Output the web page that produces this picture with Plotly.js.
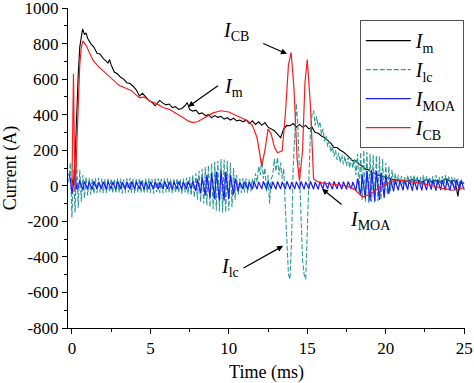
<!DOCTYPE html>
<html>
<head>
<meta charset="utf-8">
<script src="https://cdn.plot.ly/plotly-3.0.1.min.js"></script>
<style>
  html, body { margin: 0; padding: 0; background: #fff; }
  #chart { width: 474px; height: 383px; }
</style>
</head>
<body>
<div id="chart"></div>
<script>
// ---- Data ----
// I_m (black)
const imTime = [0, 0.1, 0.2, 0.3, 0.4, 0.5, 0.6, 0.68, 0.8, 0.9, 1.0, 1.2, 1.4, 1.6, 1.8, 2.0, 2.2, 2.3, 2.4, 2.5, 2.7, 2.9, 3.1, 3.3, 3.5, 3.7, 3.9, 4.1, 4.3, 4.5, 4.7, 4.9, 5.1, 5.3, 5.5, 5.6, 5.8, 6.0, 6.2, 6.4, 6.6, 6.8, 7.0, 7.2, 7.35, 7.5, 7.7, 7.9, 8.1, 8.3, 8.5, 8.7, 8.9, 9.1, 9.3, 9.5, 9.7, 9.9, 10.1, 10.3, 10.5, 10.7, 10.9, 11.1, 11.3, 11.5, 11.7, 11.9, 12.1, 12.3, 12.5, 12.7, 12.9, 13.1, 13.3, 13.5, 13.7, 13.9, 14.1, 14.3, 14.5, 14.7, 14.9, 15.1, 15.3, 15.5, 15.7, 15.9, 16.1, 16.3, 16.5, 16.7, 16.9, 17.1, 17.3, 17.5, 17.7, 17.9, 18.1, 18.3, 18.5, 18.7, 18.9, 19.1, 19.3, 19.5, 19.7, 19.9, 20.2, 20.5, 20.8, 21.1, 21.4, 21.7, 22.0, 22.3, 22.6, 22.9, 23.2, 23.5, 23.8, 24.1, 24.4, 24.6, 24.7, 25.0];
const imValues = [40, 0, 150, 400, 620, 780, 850, 883, 850, 860, 830, 800, 780, 745, 740, 715, 700, 690, 710, 680, 640, 630, 610, 600, 580, 575, 560, 540, 505, 520, 500, 480, 470, 450, 470, 480, 465, 455, 460, 440, 445, 430, 435, 450, 468, 430, 420, 425, 405, 410, 395, 400, 383, 395, 385, 390, 375, 383, 370, 380, 365, 370, 360, 370, 350, 365, 345, 360, 340, 355, 330, 320, 310, 290, 270, 320, 340, 338, 350, 330, 345, 330, 340, 320, 330, 300, 295, 280, 270, 255, 240, 215, 215, 200, 190, 175, 160, 140, 140, 120, 110, 95, 90, 75, 70, 60, 55, 50, 40, 35, 28, 30, 25, 35, 30, 20, 35, 25, 30, 20, 40, 25, 30, -60, 20, 15];

// I_lc (teal, dashed) sampled every 0.1 ms from -0.2 ms
const ilcStart = -0.2, sampleStep = 0.1;
const ilcValues = [
  20, 130, -180, 90, -150, 158, -124, 90, -90, 60,
  -70, 50, -55, 45, -50, 40, -45, 42, -40, 45,
  -38, 40, -42, 38, -40, 44, -36, 40, -42, 38,
  -40, 42, -38, 40, -44, 36, -40, 42, -38, 45,
  -40, 38, -42, 40, -38, 44, -40, 36, -42, 40,
  -38, 42, -40, 38, -44, 40, -36, 42, -40, 38,
  -42, 40, -38, 44, -40, 36, -42, 40, -38, 42,
  -40, 38, -44, 40, -38, 45, -48, 50, -55, 60,
  -65, 70, -78, 85, -90, 95, -100, 105, -110, 115,
  -120, 125, -130, 135, -140, 140, -145, 150, -150, 148,
  -150, 140, -140, 130, -120, 100, -80, 60, -50, 40,
  -40, 42, -38, 40, -42, 35, -30, 40, -10, 70,
  20, 110, 60, 150, 40, 100, -30, 60, -100, 40,
  60, 152, 80, 160, 60, 130, 40, 96, -120, -350,
  -500, -525, -300, 100, 330, 462, 330, 100, -200, -420,
  -500, -525, -250, 100, 300, 400, 423, 340, 390, 330,
  360, 290, 320, 250, 280, 220, 250, 190, 220, 165,
  200, 145, 185, 130, 175, 120, 165, 110, 160, 100,
  155, 100, 150, 60, 180, -40, 190, -80, 200, -90,
  190, -96, 180, -90, 175, -95, 170, -85, 165, -80,
  150, -70, 130, -50, 110, -30, 90, 0, 70, 10,
  60, 0, 55, 5, 50, 0, 60, 10, 55, 5,
  60, 0, 55, 10, 50, 5, 60, 0, 55, 10,
  50, 0, 55, 5, 60, 0, 50, 10, 55, 0,
  60, 5, 55, 10, 50, 0, 45, 5, 40, 10,
  35, 15, 25
];

// I_MOA (blue) sampled every 0.1 ms from -0.2 ms
const imoaValues = [
  67, 40, -45, 20, 73, -20, -10, 28, 5, -22,
  24, 3, -18, 22, 0, -20, 25, 4, -19, 21, 1, -18, 23, 2, -20, 24, 5, -17, 22, 0, -20, 25, 3, -18,
  21, 2, -19, 23, 1, -20, 24, 4, -18, 22, 0, -17, 25, 3, -20, 21, 2, -18, 23, 0, -19, 24, 4, -20,
  22, 1, -18, 25, 3, -17, 21, 0, -20, 23, 2, -18, 24, 4, -19, 22, 1, -20, 25, 3, -18,
  28, 2, -30, 36, 0, -42, 48, 3, -55, 60, 0, -66, 72, 4, -76, 80, 0, -84, 85, 3, -82, 78, 0, -72, 62, 2, -50, 40, 0, -30, 22,
  2, -19,
  23, 2, -18, 21, 0, -20, 24, 3, -19, 22, 1, -18, 25, 4, -20, 21, 0, -17, 23, 2, -20, 24, 3, -18,
  22, 0, -19, 25, 4, -20, 21, 1, -18, 23, 2, -17, 24, 0, -20, 22, 3, -18, 25, 1, -19, 21, 2, -20,
  23, 4, -18, 24, 0, -17, 22, 1, -20, 25, 3, -18, 21, 0, -19, 23, 2, -20, 24, 4, -18,
  22, 0,
  -28, 40, 2, -52, 62, 0, -72, 82, 3, -88, 90, 0, -86, 84, 2, -80, 74, 0, -66, 58, 1, -45, 40, 0, -32, 30, 2,
  -26,
  32, 5, -25, 30, 3, -22, 35, 6, -28, 31, 4, -24, 33, 5, -26, 30, 2, -25, 34, 6, -22,
  31, 3, -27, 35, 5, -24, 30, 4, -25, 33, 2, -28, 31, 5, -24, 34, 3, -26, 30, 4, -22
];

// I_CB (red)
const icbTime = [0, 0.05, 0.1, 0.15, 0.2, 0.3, 0.4, 0.5, 0.6, 0.7, 0.9, 1.1, 1.35, 1.7, 2.0, 2.4, 2.7, 3.0, 3.4, 3.8, 4.1, 4.3, 4.6, 5.0, 5.4, 5.8, 6.2, 6.6, 7.1, 7.4, 7.7, 8.0, 8.3, 8.6, 9.0, 9.5, 10.0, 10.5, 10.8, 11.2, 11.5, 11.8, 12.1, 12.3, 12.5, 12.7, 12.9, 13.1, 13.4, 13.6, 13.8, 13.97, 14.15, 14.35, 14.5, 14.7, 14.85, 15.0, 15.2, 15.4, 15.6, 16.0, 16.5, 17.0, 17.5, 18.0, 18.5, 18.8, 19.2, 19.6, 20.0, 20.7, 21.5, 22.2, 23.0, 23.6, 24.3, 25.0];
const icbValues = [0, 320, 630, 250, -30, 200, 480, 680, 780, 815, 790, 750, 705, 670, 645, 610, 590, 565, 550, 535, 510, 495, 500, 475, 462, 440, 430, 410, 383, 365, 355, 360, 375, 394, 410, 422, 415, 394, 380, 366, 340, 270, 110, 200, 320, 290, 220, 186, 197, 400, 680, 750, 550, 150, 28, 200, 580, 710, 450, 40, 25, 15, 10, 5, 0, -20, -62, -55, -35, -10, 10, 35, 25, 15, 0, -15, -25, -10];

// Tick labels
const xTickVals = [0, 5, 10, 15, 20, 25];
const xTickText = ['0', '5', '10', '15', '20', '25'];
const yTickVals = [-800, -600, -400, -200, 0, 200, 400, 600, 800, 1000];
const yTickText = ['-800', '-600', '-400', '-200', '0', '200', '400', '600', '800', '1000'];

const seriesNames = ['<i>I</i><sub>m</sub>', '<i>I</i><sub>lc</sub>', '<i>I</i><sub>MOA</sub>', '<i>I</i><sub>CB</sub>'];

// ---- Traces ----
const serif = 'Liberation Serif, Times New Roman, serif';
const traces = [
  { type: 'scatter', mode: 'lines', name: seriesNames[0], x: imTime, y: imValues,
    line: { color: '#000000', width: 1.1 } },
  { type: 'scatter', mode: 'lines', name: seriesNames[1], x0: ilcStart, dx: sampleStep, y: ilcValues,
    line: { color: '#2e9b96', width: 1.1, dash: '5px,2px' } },
  { type: 'scatter', mode: 'lines', name: seriesNames[2], x0: ilcStart, dx: sampleStep, y: imoaValues,
    line: { color: '#1a1aff', width: 1.2 } },
  { type: 'scatter', mode: 'lines', name: seriesNames[3], x: icbTime, y: icbValues,
    line: { color: '#ff1a1a', width: 1.2 } }
];

function arrow(hx, hy, tx, ty) {
  return { x: hx, y: hy, ax: tx, ay: ty, xref: 'x', yref: 'y', axref: 'x', ayref: 'y',
    text: '', showarrow: true, arrowhead: 2, arrowsize: 1, arrowwidth: 1.2, arrowcolor: '#000' };
}
function label(x, y, txt) {
  return { x: x, y: y, xref: 'x', yref: 'y', text: txt, showarrow: false,
    font: { family: serif, size: 20, color: '#000' } };
}

const layout = {
  width: 474, height: 383,
  margin: { l: 68, r: 9, t: 8, b: 55 },
  paper_bgcolor: '#fff', plot_bgcolor: '#fff',
  showlegend: true,
  font: { family: serif, size: 17, color: '#000' },
  xaxis: {
    range: [-0.25, 25.05],
    tickmode: 'array', tickvals: xTickVals, ticktext: xTickText,
    ticks: 'outside', ticklen: 5, tickwidth: 1, tickcolor: '#000',
    minor: { ticks: 'outside', ticklen: 3, dtick: 2.5, tick0: 0, tickcolor: '#000' },
    showline: true, linecolor: '#000', linewidth: 1,
    showgrid: false, zeroline: false,
    ticklabeloverflow: 'allow',
    tickfont: { family: serif, size: 17, color: '#000' },
    title: { text: 'Time (ms)', font: { family: serif, size: 18, color: '#000' }, standoff: 7 }
  },
  yaxis: {
    range: [-800, 1000],
    tickmode: 'array', tickvals: yTickVals, ticktext: yTickText,
    ticks: 'outside', ticklen: 5, tickwidth: 1, tickcolor: '#000',
    minor: { ticks: 'outside', ticklen: 3, dtick: 100, tick0: 0, tickcolor: '#000' },
    showline: true, linecolor: '#000', linewidth: 1,
    showgrid: false, zeroline: false,
    ticklabeloverflow: 'allow',
    tickfont: { family: serif, size: 17, color: '#000' },
    title: { text: 'Current (A)', font: { family: serif, size: 18, color: '#000' }, standoff: 4 }
  },
  legend: {
    x: 0.735, y: 0.962, xanchor: 'left', yanchor: 'top',
    bgcolor: '#fff', bordercolor: '#555', borderwidth: 1,
    font: { family: serif, size: 20, color: '#000' },
    itemwidth: 45, traceorder: 'normal'
  },
  annotations: [
    label(10.46, 866, '<i>I</i><sub>CB</sub>'),
    arrow(13.7, 742, 12.1, 804),
    label(10.3, 551, '<i>I</i><sub>m</sub>'),
    arrow(7.4, 444, 9.4, 568),
    label(10.08, -461, '<i>I</i><sub>lc</sub>'),
    arrow(13.46, -338, 10.84, -467),
    label(19.0, -197, '<i>I</i><sub>MOA</sub>'),
    arrow(15.94, -17, 17.28, -112)
  ]
};

Plotly.newPlot('chart', traces, layout, { displayModeBar: false, staticPlot: true });
</script>
</body>
</html>
